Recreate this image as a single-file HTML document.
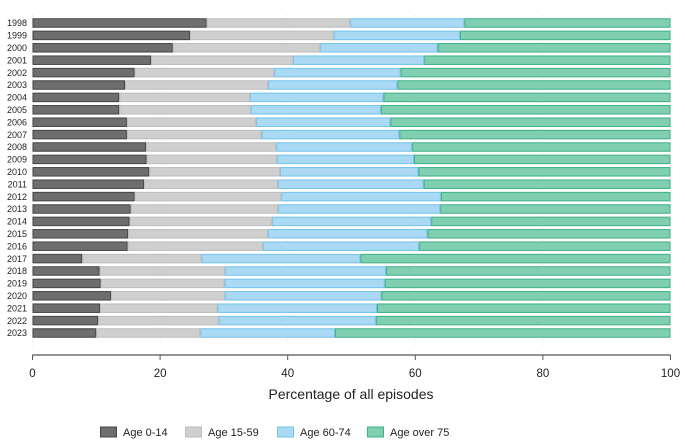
<!DOCTYPE html>
<html><head><meta charset="utf-8"><style>
body{margin:0;background:#fff;font-family:"Liberation Sans",sans-serif;}
svg{display:block}
</style></head><body>
<svg id="chart" width="685" height="444" viewBox="0 0 685 444" xmlns="http://www.w3.org/2000/svg"></svg>
<script>
const years = ["1998","1999","2000","2001","2002","2003","2004","2005","2006","2007","2008","2009","2010","2011","2012","2013","2014","2015","2016","2017","2018","2019","2020","2021","2022","2023"];
const age0to14 = [27.3,24.7,22.0,18.6,16.0,14.5,13.6,13.6,14.8,14.8,17.8,17.9,18.3,17.5,16.0,15.4,15.2,15.0,14.9,7.8,10.5,10.7,12.3,10.6,10.3,10.0];
const age15to59 = [22.5,22.5,23.1,22.2,21.9,22.4,20.5,20.6,20.2,21.1,20.4,20.4,20.5,21.0,23.0,23.1,22.3,21.9,21.2,18.7,19.7,19.4,17.9,18.4,18.9,16.3];
const age60to74 = [17.9,19.8,18.4,20.6,19.8,20.3,20.9,20.4,21.1,21.6,21.3,21.5,21.7,22.8,25.0,25.4,25.0,25.0,24.5,24.9,25.2,25.1,24.5,25.0,24.6,21.1];
const ageOver75 = [32.3,33.0,36.5,38.6,42.3,42.8,45.0,45.4,43.9,42.5,40.5,40.2,39.5,38.7,36.0,36.1,37.5,38.1,39.4,48.6,44.6,44.8,45.3,46.0,46.2,52.6];
const xTicks = [0,20,40,60,80,100];
const seriesNames = ["Age 0-14","Age 15-59","Age 60-74","Age over 75"];

const NS="http://www.w3.org/2000/svg";
const svg=document.getElementById('chart');
const x0=32.5,x1=670.5,yTop=23,rowStep=12.4,barH=8.5;
const xs=v=>x0+(v/100)*(x1-x0);
const ys=i=>yTop+i*rowStep;
function mk(tag,attrs){const e=document.createElementNS(NS,tag);for(const k in attrs)e.setAttribute(k,attrs[k]);svg.appendChild(e);return e;}

xTicks.forEach(t=>{
  const g=mk('line',{x1:xs(t),x2:xs(t),y1:15,y2:348,stroke:'#e4e4e4','stroke-width':1,'stroke-dasharray':'1,2'});
  
  
});

const fills=['#6e6e6e','#cfcfcf','#a9d9f3','#7fcfb0'];
const strokes=['#444','#bdbdbd','#76c2ea','#3faf88'];
const series=[age0to14,age15to59,age60to74,ageOver75];
const keys=['age-0-14','age-15-59','age-60-74','age-over-75'];
years.forEach((yr,i)=>{
  const lb=mk('text',{x:27,y:ys(i)+3.2,'text-anchor':'end','font-size':9,fill:'#222'});
  lb.textContent=yr;
  
  
  let cum=0;
  series.forEach((s,k)=>{
    const v=s[i];
    const r=mk('rect',{x:xs(cum)+0.5,y:ys(i)-barH/2,width:Math.max(0,xs(cum+v)-xs(cum)-1),height:barH,fill:fills[k],stroke:strokes[k],'stroke-width':1});
    
    
    cum+=v;
  });
});

const ax=mk('line',{x1:xs(0),x2:xs(100),y1:355,y2:355,stroke:'#555','stroke-width':1.3});


xTicks.forEach(t=>{
  const tk=mk('line',{x1:xs(t),x2:xs(t),y1:355,y2:360,stroke:'#555','stroke-width':1});
  
  
  const tl=mk('text',{x:xs(t),y:377,'text-anchor':'middle','font-size':11.5,fill:'#222'});
  tl.textContent=t;
  
  
});
const title=mk('text',{x:351,y:399,'text-anchor':'middle','font-size':14,fill:'#222'});
title.textContent='Percentage of all episodes';



const legX=[100,185,277,367];
seriesNames.forEach((n,k)=>{
  const sw=mk('rect',{x:legX[k]+0.5,y:427,width:16,height:10,fill:fills[k],stroke:strokes[k],'stroke-width':1});
  
  
  const t=mk('text',{x:legX[k]+23,y:436,'font-size':11,fill:'#222'});
  t.textContent=n;
  
  
});
</script>
</body></html>
